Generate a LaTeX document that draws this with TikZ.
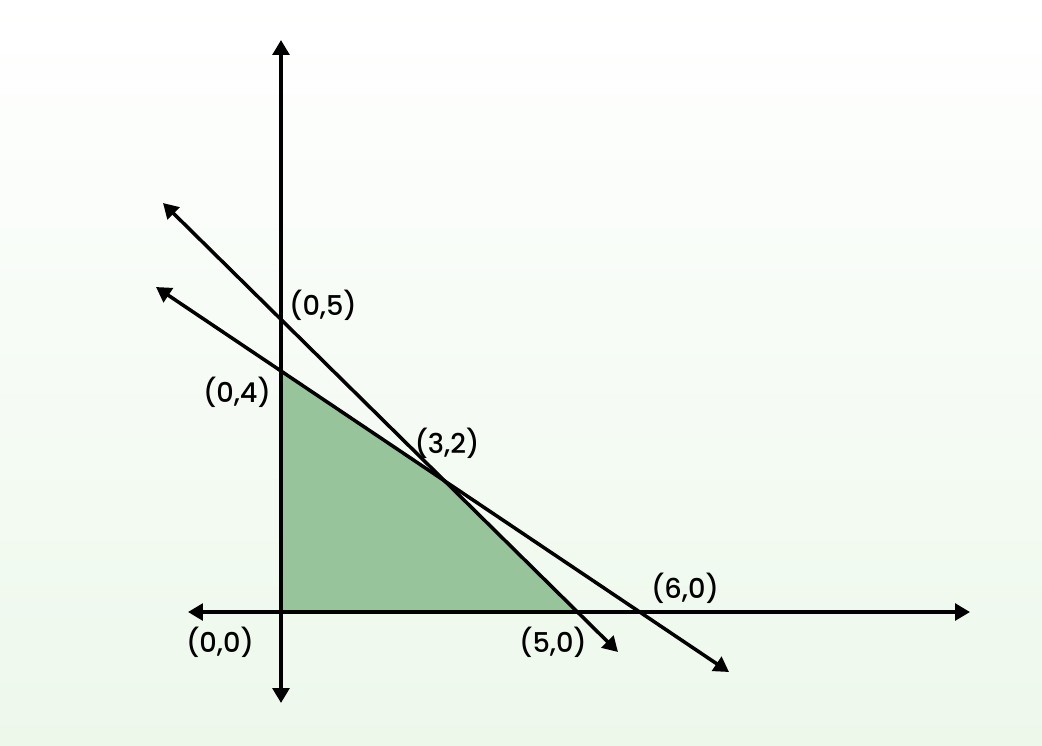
\documentclass[tikz,border=0pt]{standalone}
\usepackage{fontspec}
\setmainfont{Poppins}[UprightFont={* Medium}]
\usepackage{xcolor}
\usetikzlibrary{arrows.meta}

\definecolor{regionGreen}{HTML}{98C49C}
\definecolor{bgGreen}{HTML}{EDF8EB}

\begin{document}
\begin{tikzpicture}[x=0.02cm, y=-0.02cm,
    >={Triangle[length=8.5pt, width=9.5pt]},
    axis/.style={<->, line width=2pt},
    constraint/.style={<->, line width=2pt},
    pt/.style={font=\fontsize{15.5}{18}\selectfont, inner sep=0pt}]

    % background
    \shade[top color=white, bottom color=bgGreen] (0,0) rectangle (1042,745);
    \useasboundingbox (0,0) rectangle (1042,745);

    % axes ends
    \coordinate (O) at (281,612);
    \coordinate (yTop) at (281,40);
    \coordinate (yBot) at (281,703);
    \coordinate (xLeft) at (188,612);
    \coordinate (xRight) at (970,612);

    % corners of the feasible region
    \coordinate (A) at (281,370);
    \coordinate (B) at (445,482);
    \coordinate (C) at (577,612);

    % ends of the two constraint lines
    \coordinate (l1a) at (163,203);
    \coordinate (l1b) at (618,652);
    \coordinate (l2a) at (156,287);
    \coordinate (l2b) at (729,672);

    \fill[regionGreen] (O) -- (A) -- (B) -- (C) -- cycle;

    \draw[axis] (yBot) -- (yTop);
    \draw[axis] (xLeft) -- (xRight);
    \draw[constraint] (l1a) -- (l1b);
    \draw[constraint] (l2a) -- (l2b);

    \node[pt] (p00) at (220,642) {(0,0)};
    \node[pt] (p04) at (237,392) {(0,4)};
    \node[pt] (p05) at (323,305) {(0,5)};
    \node[pt] (p32) at (447,443) {(3,2)};
    \node[pt] (p50) at (553,642) {(5,0)};
    \node[pt] (p60) at (685,588) {(6,0)};

\end{tikzpicture}
\end{document}
